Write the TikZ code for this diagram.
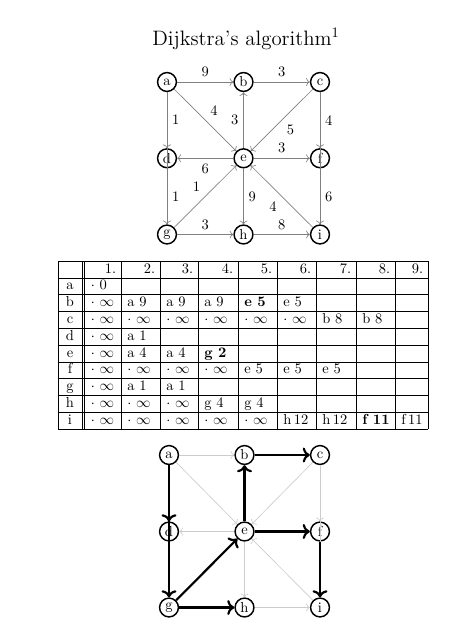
\documentclass[tikz,border=0pt]{standalone}
\usetikzlibrary{arrows.meta}
\tikzset{
  vtx/.style={circle,draw,line width=1pt,minimum size=13pt,inner sep=0pt},
  edg/.style={->,draw=gray,line width=0.45pt},
  lbl/.style={inner sep=3.3pt},
  faint/.style={->,draw=gray!40,line width=0.45pt},
  bold/.style={->,draw=black,line width=1.5pt},
  rule/.style={line width=0.4pt},
  cell/.style={inner sep=0pt,text height=6.9pt,text depth=1.9pt},
}
\newcommand\dinf{$\cdot$\ $\infty$}
\def\colL{{84.5,121,160,198,238,277,316,356,395}}
\def\colR{{121,160,198,238,277,316,356,395,428}}
\newcommand\tcell[3]{\pgfmathsetmacro\tcx{\colL[#1-1]+6}\pgfmathsetmacro\tcy{269.4+16.8*#2}\node[cell,anchor=west] (c#1r#2) at (\tcx,\tcy) {#3};}
\begin{document}
\begin{tikzpicture}[x=0.69pt,y=-0.69pt]
\useasboundingbox (0,0) rectangle (474,644);
% title
\node (title) at (246,39) {\Large Dijkstra's algorithm$^1$};
% ---------- top graph
\node[vtx] (a) at (167,82) {a};
\node[vtx] (b) at (243.5,82) {b};
\node[vtx] (c) at (320,82) {c};
\node[vtx] (d) at (167,158.3) {d};
\node[vtx] (e) at (243.5,158.3) {e};
\node[vtx] (f) at (320,158.3) {f};
\node[vtx] (g) at (167,234.5) {g};
\node[vtx] (h) at (243.5,234.5) {h};
\node[vtx] (i) at (320,234.5) {i};
\draw[edg] (a) -- node[lbl,above] {9} (b);
\draw[edg] (b) -- node[lbl,above] {3} (c);
\draw[edg] (a) -- node[lbl,right] {1} (d);
\draw[edg] (a) -- node[lbl,above right] {4} (e);
\draw[edg] (e) -- node[lbl,left] {3} (b);
\draw[edg] (c) -- node[lbl,below right] {5} (e);
\draw[edg] (c) -- node[lbl,right] {4} (f);
\draw[edg] (e) -- node[lbl,below] {6} (d);
\draw[edg] (e) -- node[lbl,above] {3} (f);
\draw[edg] (d) -- node[lbl,right] {1} (g);
\draw[edg] (g) -- node[lbl,above left] {1} (e);
\draw[edg] (e) -- node[lbl,right] {9} (h);
\draw[edg] (i) -- node[lbl,below left] {4} (e);
\draw[edg] (f) -- node[lbl,right] {6} (i);
\draw[edg] (g) -- node[lbl,above] {3} (h);
\draw[edg] (h) -- node[lbl,above] {8} (i);
\draw[gray,line width=0.45pt] (d.north) -- (d.south);
\draw[gray,line width=0.45pt] (f.north) -- (f.south);
% ---------- table
\foreach \yy in {261,277.8,294.6,311.4,328.2,345,361.8,378.6,395.4,412.2,429}
  \draw[rule] (58,\yy) -- (428,\yy);
\foreach \xx in {58,82,84.5,121,160,198,238,277,316,356,395,428}
  \draw[rule] (\xx,261) -- (\xx,429);
\foreach \k in {1,...,9}{
  \pgfmathsetmacro\hx{\colR[\k-1]-4.5}
  \node[cell,anchor=east] (hd\k) at (\hx,269.4) {\k.};
}
\foreach \lab [count=\r] in {a,b,c,d,e,f,g,h,i}{
  \pgfmathsetmacro\ly{269.4+16.8*\r}
  \node[cell] (rl\r) at (70,\ly) {\lab};
}
% row a
\tcell{1}{1}{$\cdot$\ 0}
% row b
\tcell{1}{2}{\dinf}\tcell{2}{2}{a 9}\tcell{3}{2}{a 9}\tcell{4}{2}{a 9}\tcell{5}{2}{\textbf{e 5}}\tcell{6}{2}{e 5}
% row c
\tcell{1}{3}{\dinf}\tcell{2}{3}{\dinf}\tcell{3}{3}{\dinf}\tcell{4}{3}{\dinf}\tcell{5}{3}{\dinf}\tcell{6}{3}{\dinf}\tcell{7}{3}{b 8}\tcell{8}{3}{b 8}
% row d
\tcell{1}{4}{\dinf}\tcell{2}{4}{a 1}
% row e
\tcell{1}{5}{\dinf}\tcell{2}{5}{a 4}\tcell{3}{5}{a 4}\tcell{4}{5}{\textbf{g 2}}
% row f
\tcell{1}{6}{\dinf}\tcell{2}{6}{\dinf}\tcell{3}{6}{\dinf}\tcell{4}{6}{\dinf}\tcell{5}{6}{e 5}\tcell{6}{6}{e 5}\tcell{7}{6}{e 5}
% row g
\tcell{1}{7}{\dinf}\tcell{2}{7}{a 1}\tcell{3}{7}{a 1}
% row h
\tcell{1}{8}{\dinf}\tcell{2}{8}{\dinf}\tcell{3}{8}{\dinf}\tcell{4}{8}{g 4}\tcell{5}{8}{g 4}
% row i
\tcell{1}{9}{\dinf}\tcell{2}{9}{\dinf}\tcell{3}{9}{\dinf}\tcell{4}{9}{\dinf}\tcell{5}{9}{\dinf}\tcell{6}{9}{h\,12}\tcell{7}{9}{h\,12}\tcell{8}{9}{\textbf{f 11}}\tcell{9}{9}{f\,11}
% ---------- bottom graph
\node[vtx] (A) at (169,455) {a};
\node[vtx] (B) at (244.5,455) {b};
\node[vtx] (C) at (320,455) {c};
\node[vtx] (D) at (169,531.5) {d};
\node[vtx] (E) at (244.5,531.5) {e};
\node[vtx] (F) at (320,531.5) {f};
\node[vtx] (G) at (169,607.5) {g};
\node[vtx] (H) at (244.5,607.5) {h};
\node[vtx] (I) at (320,607.5) {i};
\draw[faint] (A) -- (B);
\draw[faint] (A) -- (E);
\draw[faint] (C) -- (E);
\draw[faint] (C) -- (F);
\draw[faint] (E) -- (D);
\draw[faint] (E) -- (H);
\draw[faint] (I) -- (E);
\draw[faint] (H) -- (I);
\draw[gray!40,line width=0.45pt] (F.north) -- (F.south);
\draw[line width=1.5pt] (D.north) -- (D.south);
\draw[bold] (A) -- (D);
\draw[bold] (D) -- (G);
\draw[bold] (G) -- (E);
\draw[bold] (G) -- (H);
\draw[bold] (E) -- (B);
\draw[bold] (B) -- (C);
\draw[bold] (E) -- (F);
\draw[bold] (F) -- (I);
\end{tikzpicture}
\end{document}
